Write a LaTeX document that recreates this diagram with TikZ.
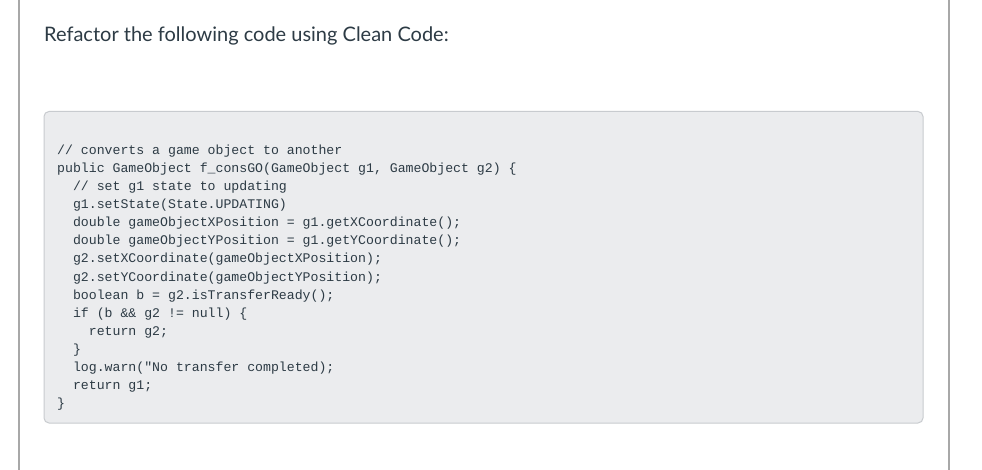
\documentclass[tikz,border=0pt]{standalone}
\usepackage{fontspec}
\setmainfont{Lato}
\setmonofont{Liberation Mono}
\definecolor{boxfill}{HTML}{EBECEE}
\definecolor{boxline}{HTML}{C8CBCF}
\definecolor{panel}{HTML}{A8A8A8}
\definecolor{txt}{HTML}{2D3B45}
\begin{document}
\begin{tikzpicture}[x=1pt,y=-1pt,
  codeline/.style={anchor=base west,inner sep=0pt,font=\fontsize{13.2}{18}\ttfamily,text=txt}]
\useasboundingbox[fill=white] (0,0) rectangle (982,470);
\draw[panel,line width=1.2pt] (19,0) -- (19,470);
\draw[panel,line width=1.2pt] (949,0) -- (949,470);
\node[anchor=base west,inner sep=0pt,font=\fontsize{20}{24}\selectfont,text=txt] (title) at (44,42) {Refactor the following code using Clean Code:};
\draw[boxline,fill=boxfill,rounded corners=5pt,line width=1pt] (44,111.5) rectangle (923,423);
\foreach \t [count=\i from 0] in {
{// converts a game object to another},
{public GameObject f\_consGO(GameObject g1, GameObject g2) \{},
{\ \ // set g1 state to updating},
{\ \ g1.setState(State.UPDATING)},
{\ \ double gameObjectXPosition = g1.getXCoordinate();},
{\ \ double gameObjectYPosition = g1.getYCoordinate();},
{\ \ g2.setXCoordinate(gameObjectXPosition);},
{\ \ g2.setYCoordinate(gameObjectYPosition);},
{\ \ boolean b = g2.isTransferReady();},
{\ \ if (b \&\& g2 != null) \{},
{\ \ \ \ return g2;},
{\ \ \}},
{\ \ log.warn("No transfer completed);},
{\ \ return g1;},
{\}}}
  \node[codeline] (l\i) at (57,{155+18*\i}) {\t};
\end{tikzpicture}
\end{document}
